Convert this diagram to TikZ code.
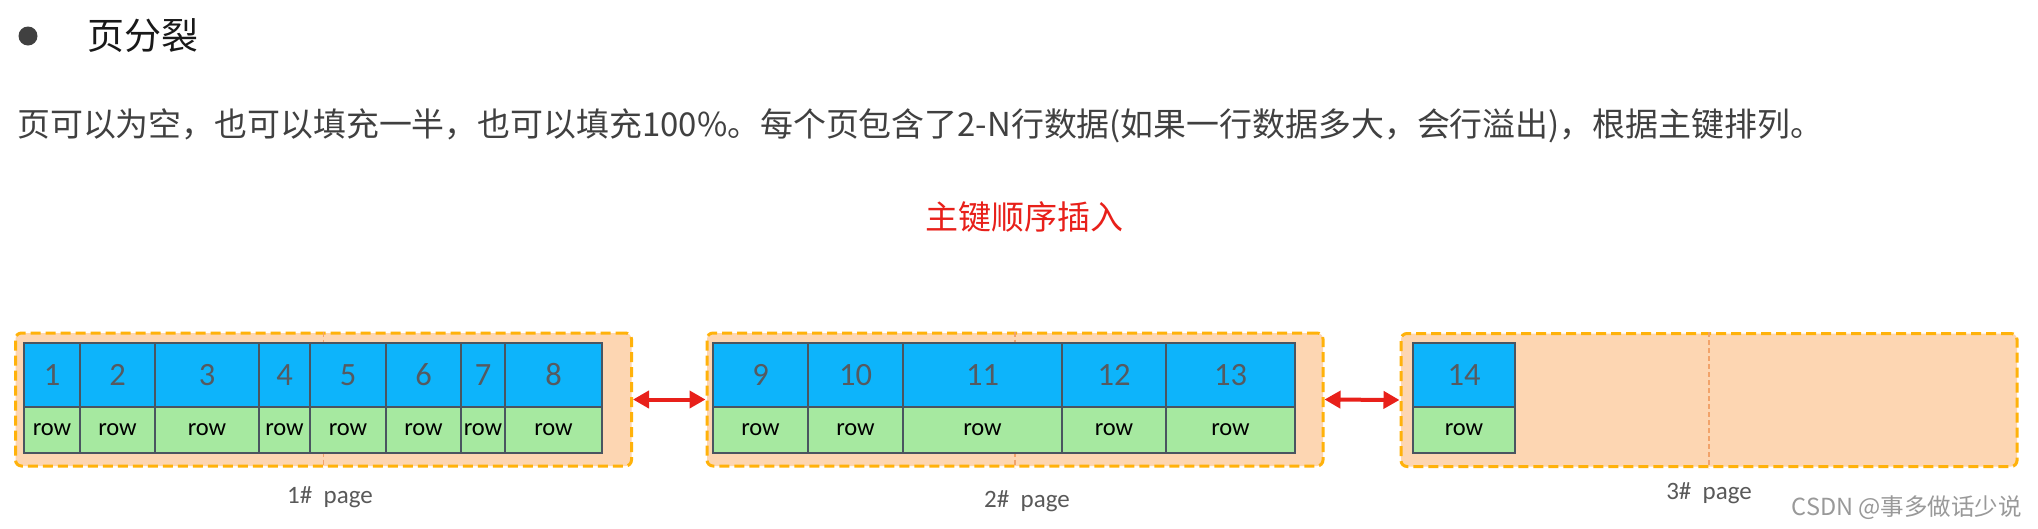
\documentclass[tikz,border=0pt]{standalone}
\usepackage{fontspec}
\setmainfont{Carlito}
\newfontfamily\cjk{Noto Sans CJK SC}
\usetikzlibrary{arrows.meta}
\definecolor{cellblue}{HTML}{0DB4FB}
\definecolor{cellgreen}{HTML}{A6E9A0}
\definecolor{pagefill}{HTML}{FDD6B2}
\definecolor{pageline}{HTML}{FFB20A}
\definecolor{midline}{HTML}{F2A36A}
\definecolor{cellline}{HTML}{4A5560}
\definecolor{arrowred}{HTML}{E8201A}
\definecolor{numgray}{HTML}{555A60}
\definecolor{labgray}{HTML}{595959}
\tikzset{
  pagebox/.style={draw=pageline, fill=pagefill, line width=3pt, dash pattern=on 10pt off 5pt, rounded corners=6pt, minimum width=616pt, minimum height=133pt, inner sep=0pt},
  midsplit/.style={draw=midline, line width=1.2pt, dash pattern=on 5pt off 3pt},
  numcell/.style={draw=cellline, fill=cellblue, line width=1.5pt, minimum height=64pt, inner sep=0pt, text=numgray, font=\fontsize{32.5}{32.5}\selectfont},
  rowcell/.style={draw=cellline, fill=cellgreen, line width=1.5pt, minimum height=46pt, inner sep=0pt, text=black, font=\fontsize{24.5}{24.5}\selectfont},
  linkarrow/.style={draw=arrowred, line width=4pt, {Triangle[length=16pt,width=17pt]}-{Triangle[length=16pt,width=17pt]}, shorten <=0pt, shorten >=0pt},
  pagelabel/.style={text=labgray, font=\fontsize{25}{25}\selectfont, inner sep=0pt}
}
\begin{document}
\begin{tikzpicture}[x=1pt, y=-1pt]
\useasboundingbox (0,0) rectangle (2038,528);
\fill[white] (0,0) rectangle (2038,528);
% header
\fill[black!75] (28,36) circle (9.5pt) coordinate (bul);
\node[anchor=west, inner sep=0pt, text=black!90, font=\cjk\fontsize{37}{37}\selectfont] (title) at (87,36) {页分裂};
\node[anchor=west, inner sep=0pt, text=black!75, font=\cjk\fontsize{32.9}{32.9}\selectfont] (para) at (17,126) {页可以为空，也可以填充一半，也可以填充100\%。每个页包含了2-N行数据(如果一行数据多大，会行溢出)，根据主键排列。};
\node[inner sep=0pt, text=arrowred, font=\cjk\fontsize{33}{33}\selectfont] (order) at (1024,217) {主键顺序插入};
% pages
\node[pagebox] (pg1) at (323.5,399.5) {};
\node[pagebox] (pg2) at (1015,399.5) {};
\node[pagebox] (pg3) at (1709,400) {};
\draw[midsplit] (pg1.north) -- (pg1.south);
\draw[midsplit] (pg2.north) -- (pg2.south);
\draw[midsplit] (pg3.north) -- (pg3.south);
% cells
\foreach \a/\b/\n in {24/80/1, 80/155/2, 155/259/3, 259/310/4, 310/386/5, 386/461/6, 461/505/7, 505/602/8, 713/808/9, 808/903/10, 903/1062/11, 1062/1166/12, 1166/1295/13, 1413/1515/14}{
  \pgfmathsetmacro\w{\b-\a}
  \pgfmathsetmacro\c{(\a+\b)/2}
  \node[numcell, minimum width=\w pt] (k\n) at (\c,375) {\n};
  \node[rowcell, minimum width=\w pt] (r\n) at (\c,430) {row};
}
% arrows
\draw[linkarrow] (pg1.east) -- (pg2.west);
\draw[linkarrow] (pg2.east) -- (pg3.west);
% labels
\node[pagelabel] (lab1) at (330,497) {1\#\ \ page};
\node[pagelabel] (lab2) at (1027,501) {2\#\ \ page};
\node[pagelabel] (lab3) at (1709,493) {3\#\ \ page};
\node[anchor=east, inner sep=0pt, text=black!40, font=\cjk\fontsize{23.5}{23.5}\selectfont] (mark) at (2022,508) {CSDN @事多做话少说};
\end{tikzpicture}
\end{document}
